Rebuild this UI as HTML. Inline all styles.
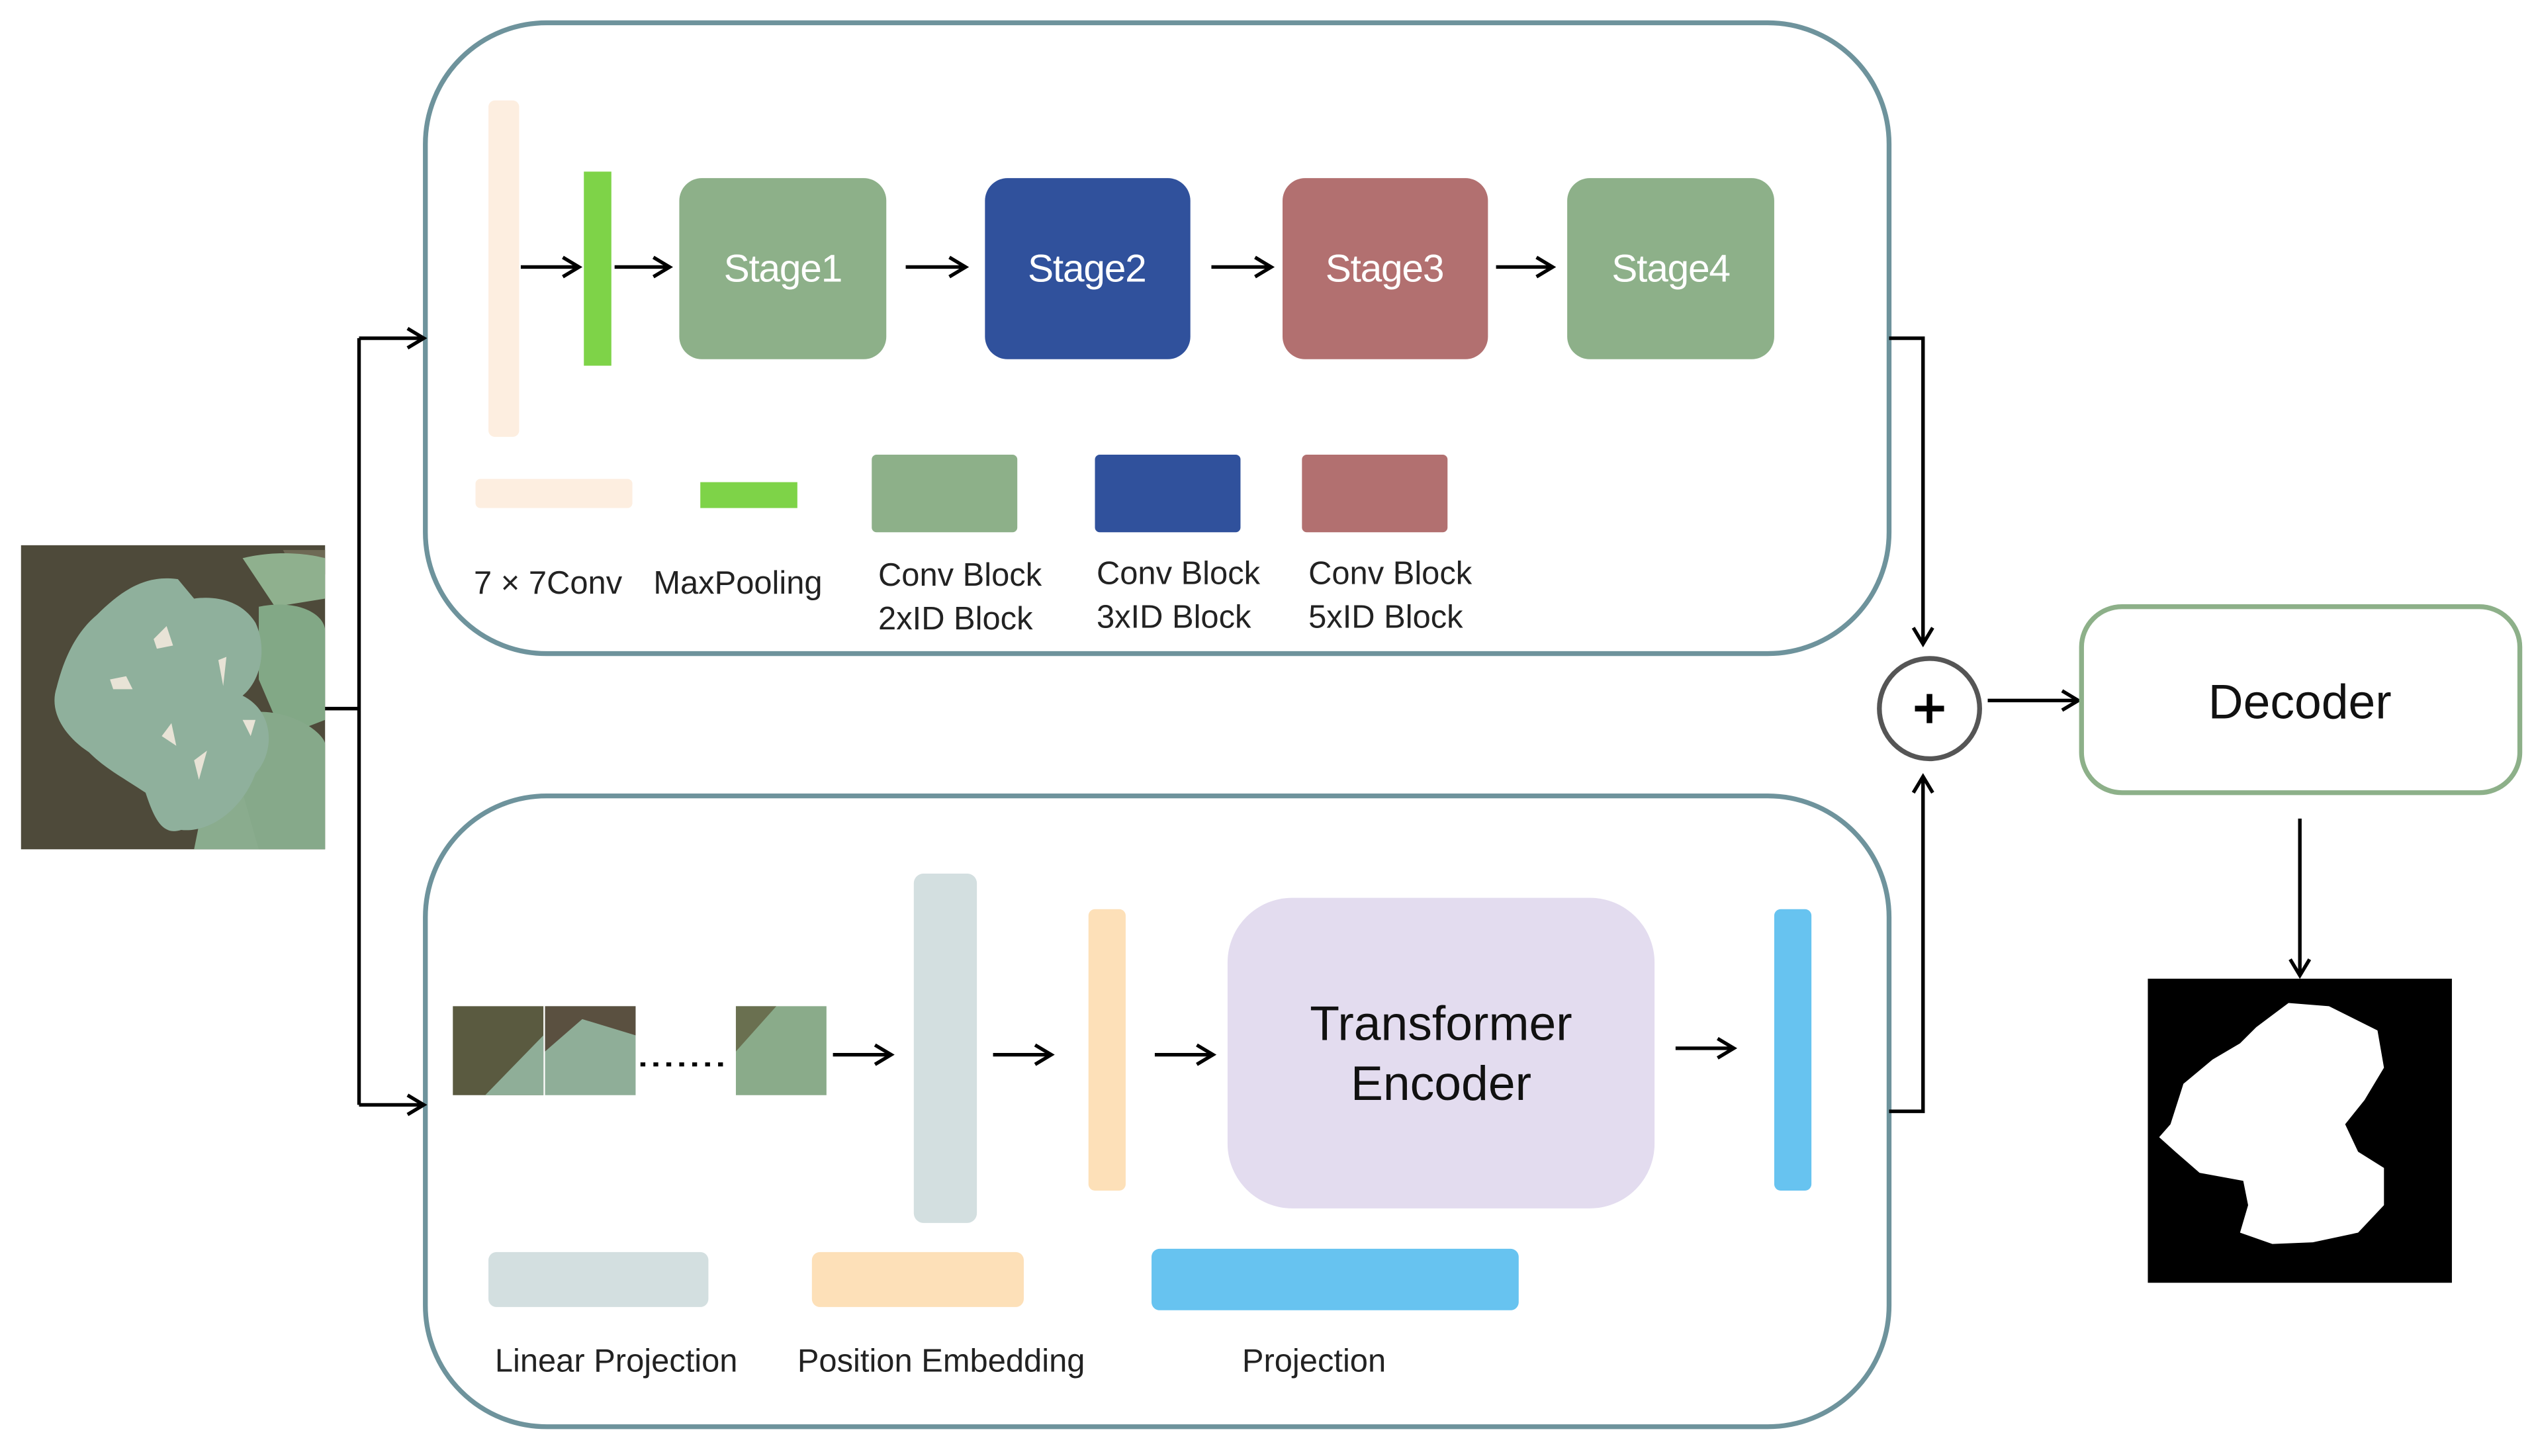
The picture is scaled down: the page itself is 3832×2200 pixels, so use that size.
<!DOCTYPE html>
<html><head><meta charset="utf-8"><style>html,body{margin:0;padding:0;background:#fff}svg{display:block}</style></head>
<body>
<svg width="3832" height="2200" viewBox="0 0 1568 900" xmlns="http://www.w3.org/2000/svg" font-family="Liberation Sans, sans-serif">
<defs>
<marker id="a" markerWidth="14" markerHeight="14" refX="11" refY="7" orient="auto" markerUnits="userSpaceOnUse">
<path d="M1,1 L11,7 L1,13" fill="none" stroke="#000" stroke-width="2.2"/></marker>
</defs>
<rect width="1568" height="900" fill="#fff"/>
<rect x="263" y="14" width="905" height="390" rx="75" fill="none" stroke="#6e939c" stroke-width="3"/>
<rect x="263" y="492" width="905" height="390" rx="75" fill="none" stroke="#6e939c" stroke-width="3"/>
<!-- leaf image -->
<rect x="13" y="337" width="188" height="188" fill="#4e4a3a"/>
<path d="M175,340 L201,340 L201,355 L185,360Z" fill="#6e6a55"/>
<path d="M150,345 C170,340 190,342 201,345 L201,370 L170,375Z" fill="#8fb08e"/>
<path d="M160,375 C185,370 201,380 201,390 L201,445 L175,455 L160,420Z" fill="#82a886"/>
<path d="M160,440 C185,440 201,455 201,460 L201,525 L140,525 L148,480Z" fill="#86a98a"/>
<path d="M125,500 L150,490 L160,525 L120,525Z" fill="#8aac8e"/>
<path d="M60,380 C75,365 90,355 110,358 L120,370 C135,368 150,372 158,385 C165,400 162,420 150,430 C170,440 170,465 158,478 C150,500 130,515 112,513 C100,517 95,505 90,490 C75,480 65,475 55,465 C40,455 30,440 35,425 C40,405 48,390 60,380Z" fill="#8fb09c"/>
<path d="M95,395 l8,-8 l4,12 l-10,2z M68,420 l10,-2 l4,8 l-12,0z M100,455 l6,-8 l3,14z M135,408 l5,-2 l-2,18z M120,470 l8,-6 l-5,18z M150,445 l8,0 l-3,10z" fill="#e8e3d6"/>
<!-- left connector -->
<path d="M201,438 H222 M222,209 V683" stroke="#000" stroke-width="2.2" fill="none"/>
<path d="M222,209 H262" stroke="#000" stroke-width="2.2" marker-end="url(#a)"/>
<path d="M222,683 H262" stroke="#000" stroke-width="2.2" marker-end="url(#a)"/>
<!-- top content -->
<rect x="302" y="62" width="19" height="208" rx="4" fill="#fdeee0"/>
<rect x="361" y="106" width="17" height="120" fill="#7ed348"/>
<g stroke="#000" stroke-width="2.2" fill="none">
<path d="M322,165 H358" marker-end="url(#a)"/>
<path d="M380,165 H414" marker-end="url(#a)"/>
<path d="M560,165 H597" marker-end="url(#a)"/>
<path d="M749,165 H786" marker-end="url(#a)"/>
<path d="M925,165 H960" marker-end="url(#a)"/>
</g>
<g font-size="24" fill="#fff" text-anchor="middle" letter-spacing="-0.5">
<rect x="420" y="110" width="128" height="112" rx="14" fill="#8db089"/><text x="484" y="174">Stage1</text>
<rect x="609" y="110" width="127" height="112" rx="14" fill="#30519c"/><text x="672" y="174">Stage2</text>
<rect x="793" y="110" width="127" height="112" rx="14" fill="#b27070"/><text x="856" y="174">Stage3</text>
<rect x="969" y="110" width="128" height="112" rx="14" fill="#8db089"/><text x="1033" y="174">Stage4</text>
</g>
<rect x="294" y="296" width="97" height="18" rx="3" fill="#fdeee0"/>
<rect x="433" y="298" width="60" height="16" fill="#7ed348"/>
<rect x="539" y="281" width="90" height="48" rx="3" fill="#8db089"/>
<rect x="677" y="281" width="90" height="48" rx="3" fill="#30519c"/>
<rect x="805" y="281" width="90" height="48" rx="3" fill="#b27070"/>
<g font-size="20" fill="#222">
<text x="293" y="367">7 × 7Conv</text>
<text x="404" y="367">MaxPooling</text>
<text x="543" y="362">Conv Block</text><text x="543" y="389">2xID Block</text>
<text x="678" y="361">Conv Block</text><text x="678" y="388">3xID Block</text>
<text x="809" y="361">Conv Block</text><text x="809" y="388">5xID Block</text>
</g>
<!-- bottom content -->
<rect x="280" y="622" width="56" height="55" fill="#5a5a40"/><path d="M300,677 L336,640 L336,677Z" fill="#8fae98"/>
<rect x="337" y="622" width="56" height="55" fill="#8fae98"/><path d="M337,622 H393 V640 L360,630 L337,650Z" fill="#5a5040"/>
<rect x="455" y="622" width="56" height="55" fill="#8aab8a"/><path d="M455,622 H480 L455,650Z" fill="#6a7050"/>
<path d="M396,658 H450" stroke="#000" stroke-width="2.5" stroke-dasharray="3,5"/>
<rect x="565" y="540" width="39" height="216" rx="6" fill="#d3dfe0"/>
<rect x="673" y="562" width="23" height="174" rx="4" fill="#fde0b8"/>
<rect x="759" y="555" width="264" height="192" rx="40" fill="#e3dcef"/>
<text x="891" y="643" font-size="30" text-anchor="middle" fill="#111">Transformer</text>
<text x="891" y="680" font-size="30" text-anchor="middle" fill="#111">Encoder</text>
<rect x="1097" y="562" width="23" height="174" rx="4" fill="#67c3f0"/>
<g stroke="#000" stroke-width="2.2" fill="none">
<path d="M515,652 H551" marker-end="url(#a)"/>
<path d="M614,652 H650" marker-end="url(#a)"/>
<path d="M714,652 H750" marker-end="url(#a)"/>
<path d="M1036,648 H1072" marker-end="url(#a)"/>
</g>
<rect x="302" y="774" width="136" height="34" rx="5" fill="#d3dfe0"/>
<rect x="502" y="774" width="131" height="34" rx="5" fill="#fde0b8"/>
<rect x="712" y="772" width="227" height="38" rx="5" fill="#67c3f0"/>
<g font-size="20" fill="#222">
<text x="306" y="848">Linear Projection</text>
<text x="493" y="848">Position Embedding</text>
<text x="768" y="848">Projection</text>
</g>
<!-- right connectors -->
<g stroke="#000" stroke-width="2.2" fill="none">
<path d="M1168,209 H1189 V398" marker-end="url(#a)"/>
<path d="M1168,687 H1189 V480" marker-end="url(#a)"/>
<path d="M1229,433 H1285" marker-end="url(#a)"/>
<path d="M1422,506 V603" marker-end="url(#a)"/>
</g>
<circle cx="1193" cy="438" r="31" fill="#fff" stroke="#555" stroke-width="3"/>
<path d="M1184,438 H1202 M1193,429 V447" stroke="#000" stroke-width="3.5"/>
<rect x="1287" y="375" width="271" height="115" rx="25" fill="#fff" stroke="#8db089" stroke-width="3"/>
<text x="1422" y="444" font-size="30" text-anchor="middle" fill="#111">Decoder</text>
<rect x="1328" y="605" width="188" height="188" fill="#000"/>
<path d="M1415,620 L1440,622 L1452,628 L1470,637 L1474,660 L1462,680 L1450,695 L1458,712 L1474,722 L1474,745 L1458,762 L1430,768 L1405,769 L1385,762 L1390,745 L1387,730 L1360,725 L1345,712 L1335,703 L1342,695 L1350,670 L1368,655 L1385,645 L1395,635Z" fill="#fff"/>
</svg>
</body></html>
